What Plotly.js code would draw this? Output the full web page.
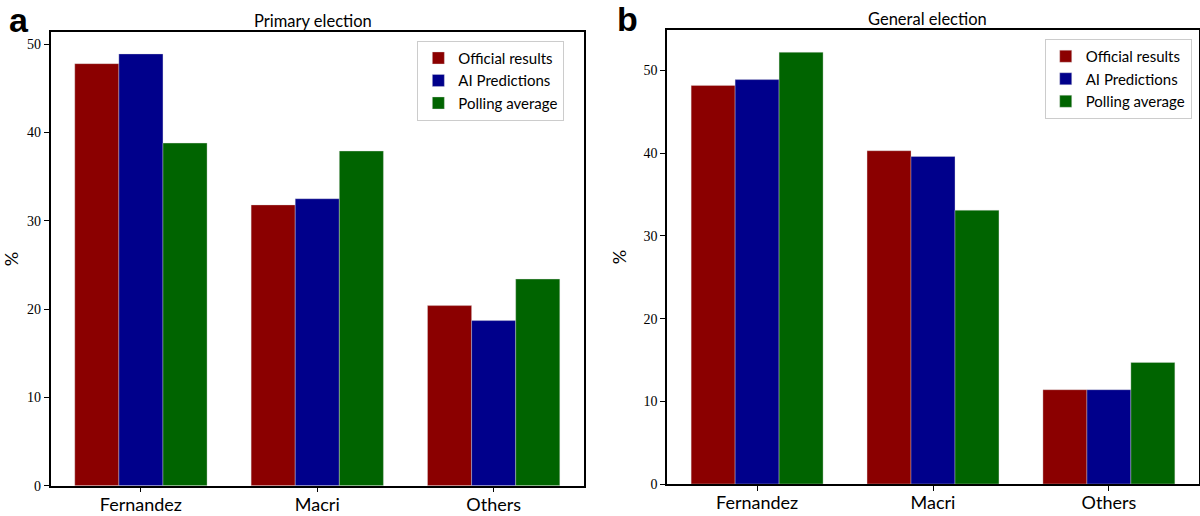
<!DOCTYPE html>
<html>
<head>
<meta charset="utf-8">
<script src="https://cdn.plot.ly/plotly-3.0.1.min.js"></script>
<style>html,body{margin:0;padding:0;background:#fff;}#chart{width:1200px;height:516px;}</style>
</head>
<body>
<div id="chart"></div>
<script>
const candidates = ["Fernandez", "Macri", "Others"];
const seriesNames = ["Official results", "AI Predictions", "Polling average"];
const seriesColors = ["#8b0000", "#00008b", "#006400"];

// Primary election (%)
const primaryOfficial = [47.8, 31.8, 20.4];
const primaryAI = [48.9, 32.5, 18.7];
const primaryPolling = [38.8, 37.9, 23.4];

// General election (%)
const generalOfficial = [48.2, 40.3, 11.4];
const generalAI = [48.9, 39.6, 11.4];
const generalPolling = [52.2, 33.1, 14.7];

const yTicks = [0, 10, 20, 30, 40, 50];

const primarySeries = [primaryOfficial, primaryAI, primaryPolling];
const generalSeries = [generalOfficial, generalAI, generalPolling];

const traces = [];
primarySeries.forEach((vals, i) => {
  traces.push({
    type: "bar", x: candidates, y: vals, name: seriesNames[i],
    xaxis: "x", yaxis: "y", legend: "legend",
    marker: {color: seriesColors[i], line: {color: "rgba(220,220,220,0.6)", width: 0.6}},
    hoverinfo: "x+y+name"
  });
});
generalSeries.forEach((vals, i) => {
  traces.push({
    type: "bar", x: candidates, y: vals, name: seriesNames[i],
    xaxis: "x2", yaxis: "y2", legend: "legend2",
    marker: {color: seriesColors[i], line: {color: "rgba(220,220,220,0.6)", width: 0.6}},
    hoverinfo: "x+y+name"
  });
});

const catFont = {family: "Lato, 'Open Sans', sans-serif", size: 18, color: "#000"};
const numFont = {family: "'Liberation Serif', 'DejaVu Serif', serif", size: 14, color: "#000"};
const legFont = {family: "Lato, 'Open Sans', sans-serif", size: 15, color: "#000"};

function xAxis(domain, anchor) {
  return {
    domain: domain, anchor: anchor, type: "category",
    range: [-0.5125, 2.5125],
    showline: true, mirror: true, linecolor: "#000", linewidth: 1.5,
    ticks: "outside", ticklen: 5, tickwidth: 1.2, tickcolor: "#000",
    ticklabelstandoff: -3,
    tickfont: catFont, showgrid: false, zeroline: false, fixedrange: true
  };
}
function yAxis(domain, anchor, top) {
  return {
    domain: domain, anchor: anchor,
    range: [0, top],
    tickvals: yTicks, ticktext: yTicks.map(String),
    showline: true, mirror: true, linecolor: "#000", linewidth: 1.5,
    ticks: "outside", ticklen: 5, tickwidth: 1.2, tickcolor: "#000",
    tickfont: numFont, showgrid: false, zeroline: false, fixedrange: true,
    title: {text: "%", font: {family: "Lato, sans-serif", size: 18, color: "#000"}, standoff: 12}
  };
}

const legendBase = {
  font: legFont, bgcolor: "rgba(255,255,255,0.85)", bordercolor: "#cccccc", borderwidth: 1,
  xanchor: "right", yanchor: "top", itemclick: false, itemdoubleclick: false
};

const layout = {
  width: 1200, height: 516,
  margin: {l: 0, r: 0, t: 0, b: 0},
  paper_bgcolor: "#fff", plot_bgcolor: "#fff",
  barmode: "group", bargap: 0.25, bargroupgap: 0,
  xaxis: xAxis([0.0421, 0.4867], "y"),
  yaxis: yAxis([0.0587, 0.9374], "x", 51.35),
  xaxis2: xAxis([0.5558, 0.9992], "y2"),
  yaxis2: yAxis([0.0620, 0.9419], "x2", 54.9),
  legend: Object.assign({}, legendBase, {x: 0.4703, y: 0.9211}),
  legend2: Object.assign({}, legendBase, {x: 0.9931, y: 0.9244}),
  annotations: [
    {text: "Primary election", xref: "paper", yref: "paper", x: 0.2610, y: (516 - 21) / 516,
     xanchor: "center", yanchor: "middle", showarrow: false,
     font: {family: "Lato, sans-serif", size: 16.5, color: "#000"}},
    {text: "General election", xref: "paper", yref: "paper", x: 0.7725, y: (516 - 19) / 516,
     xanchor: "center", yanchor: "middle", showarrow: false,
     font: {family: "Lato, sans-serif", size: 16.5, color: "#000"}},
    {text: "<b>a</b>", xref: "paper", yref: "paper", x: 18.5 / 1200, y: (516 - 20) / 516,
     xanchor: "center", yanchor: "middle", showarrow: false,
     font: {family: "'Liberation Sans', Arial, sans-serif", size: 34, color: "#000"}},
    {text: "<b>b</b>", xref: "paper", yref: "paper", x: 627 / 1200, y: (516 - 19) / 516,
     xanchor: "center", yanchor: "middle", showarrow: false,
     font: {family: "'Liberation Sans', Arial, sans-serif", size: 34, color: "#000"}}
  ],
  showlegend: true
};

Plotly.newPlot("chart", traces, layout, {displayModeBar: false, staticPlot: false, responsive: false});
</script>
</body>
</html>
